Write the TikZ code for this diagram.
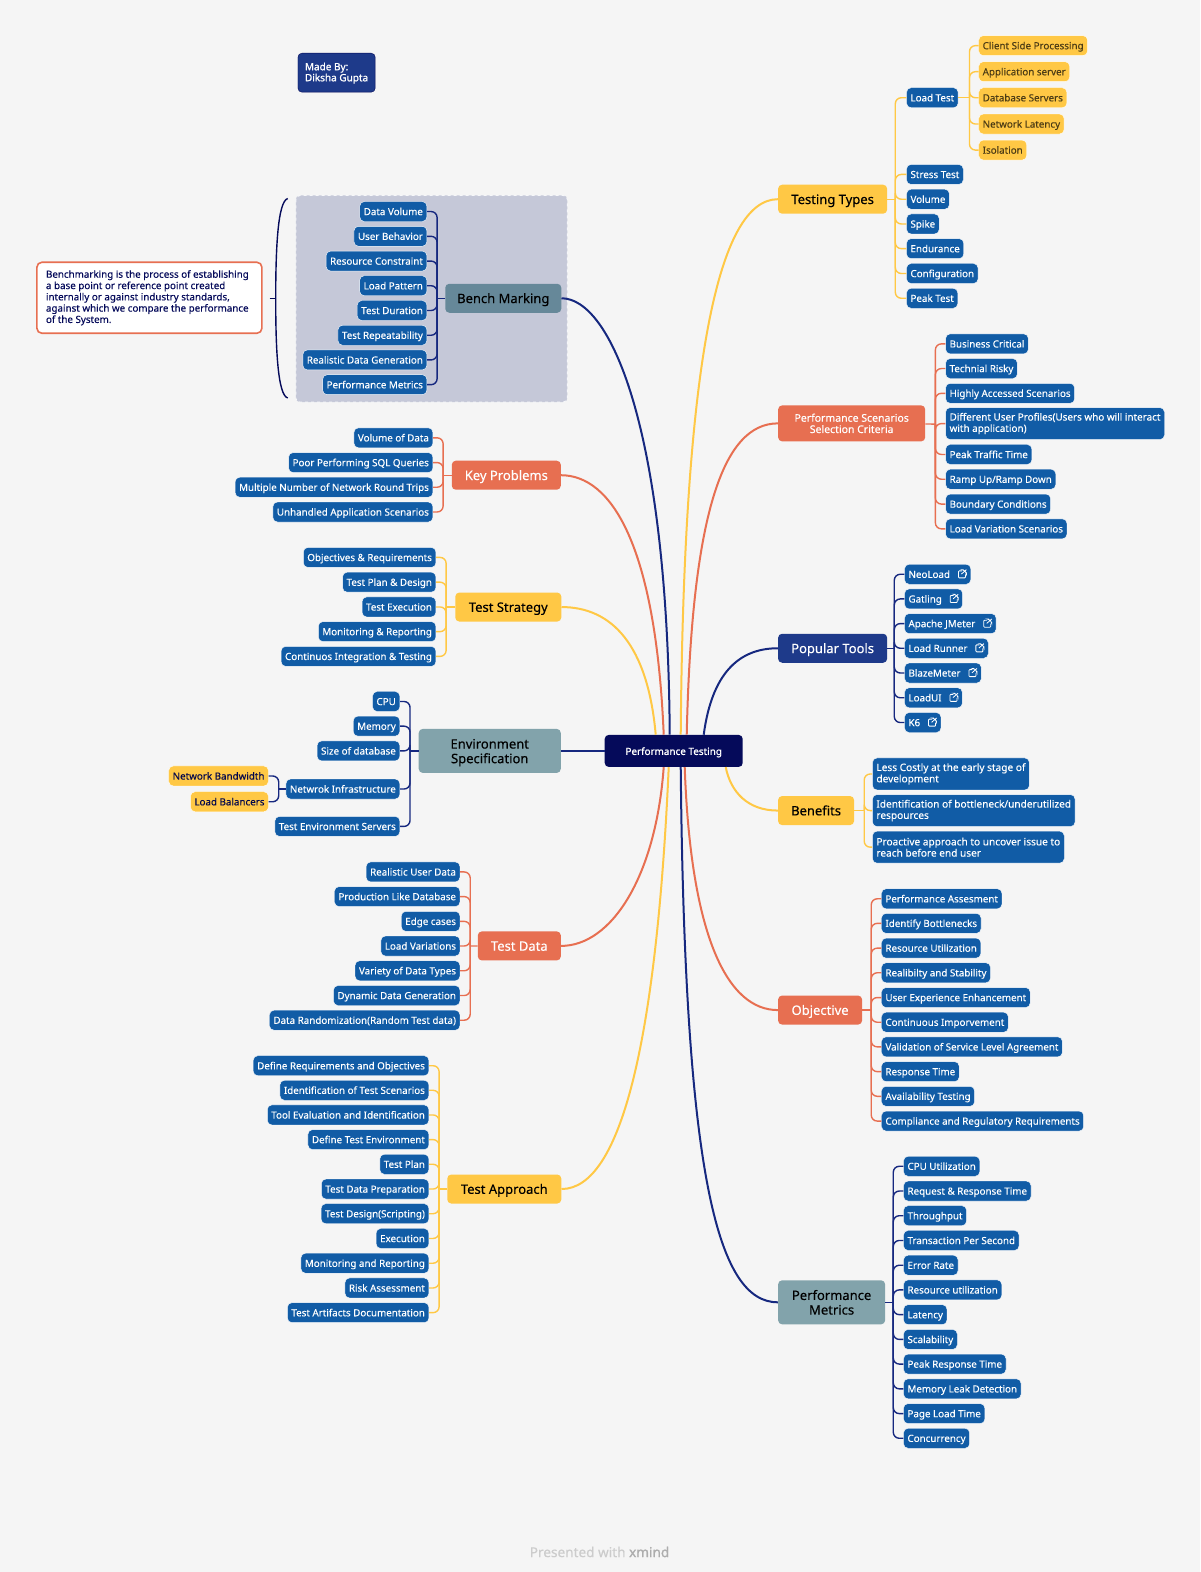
\documentclass[tikz,border=0pt]{standalone}
\usepackage{fontspec}
\usepackage{tikz}
\setmainfont{Noto Sans}[FakeBold=0.25]
\newfontfamily\heavyfont{Noto Sans}[FakeBold=1.1]
\definecolor{pagebg}{HTML}{F5F5F5}
\definecolor{hubnavy}{HTML}{050A5A}
\definecolor{toolnavy}{HTML}{1E3A8A}
\definecolor{linenavy}{HTML}{16287F}
\definecolor{leafblue}{HTML}{115CA6}
\definecolor{sunny}{HTML}{FFC845}
\definecolor{coral}{HTML}{E76F51}
\definecolor{slate}{HTML}{668899}
\definecolor{steel}{HTML}{82A3AB}
\definecolor{lilac}{HTML}{C5C8D8}
\newcommand{\linkicon}{\hspace{8pt}\tikz[baseline=0pt,x=1pt,y=1pt]{\draw[white,line width=.8pt,rounded corners=.8pt] (3.5,7) -- (0,7) -- (0,0) -- (7,0) -- (7,3.5);\draw[white,line width=.8pt] (3,3.8) -- (8,8.2) (5.2,8.2) -- (8,8.2) -- (8,5.4);}}

\begin{document}
\begin{tikzpicture}[
        x=1.0025pt,
        y=-1.0025pt,
        topic/.style={twoline, text height=11.5pt, text depth=1.9pt},
        twoline/.style={rounded corners=4pt, inner sep=0pt, minimum height=29pt, align=center, font=\fontsize{13}{15}\selectfont},
        leaf/.style={fill=leafblue, draw=white, line width=.4pt, text=white, rounded corners=4.5pt, inner xsep=4pt, inner ysep=0pt, minimum height=20pt, font=\fontsize{9.8}{11.3}\selectfont},
        leafw/.style={leaf, anchor=west, text height=8.6pt, text depth=1.4pt},
        leafe/.style={leaf, anchor=east, text height=8.6pt, text depth=1.4pt},
        wrapw/.style={leaf, anchor=west, align=left, minimum height=32pt, font=\fontsize{10.1}{11.3}\selectfont},
        tagw/.style={leafw, fill=sunny, text=black!70!sunny},
        tage/.style={leafe, fill=sunny, text=hubnavy!85!black},
        mainy/.style={line width=2pt, draw=sunny},
        mainr/.style={line width=2pt, draw=coral},
        mainn/.style={line width=2pt, draw=linenavy},
        liney/.style={line width=1.4pt, draw=sunny, rounded corners=6pt},
        liner/.style={line width=1.4pt, draw=coral, rounded corners=6pt},
        linen/.style={line width=1.4pt, draw=linenavy, rounded corners=6pt}
    ]
        \fill[pagebg] (0,0) rectangle (1197,1568);
        \useasboundingbox (0,0) rectangle (1197,1568);

        % group behind the bench marking topic
        \fill[lilac, rounded corners=4pt] (295,195) rectangle (566,401);
        \draw[white!85!lilac, dashed, line width=1pt, rounded corners=4pt] (295,195) rectangle (566,401);

        % centre and topics
        \node[topic, fill=hubnavy, text=white, minimum width=138pt, minimum height=32pt, text height=9pt, text depth=1pt, font=\fontsize{9.9}{12}\heavyfont] (hub) at (672,749) {Performance Testing};
        \node[topic, fill=sunny, minimum width=109pt] (tt) at (830.5,198.7) {Testing Types};
        \node[twoline, fill=coral, text=white, minimum width=147pt, minimum height=36pt, font=\fontsize{10.5}{11.3}\selectfont] (ps) at (849.5,422.3) {Performance Scenarios\\Selection Criteria};
        \node[topic, fill=toolnavy, text=white, minimum width=109pt] (pt) at (830.5,646.6) {Popular Tools};
        \node[topic, fill=sunny, minimum width=76pt] (bf) at (814,808.5) {Benefits};
        \node[topic, fill=coral, text=white, minimum width=84pt] (ob) at (818,1007.5) {Objective};
        \node[twoline, fill=steel, minimum width=107pt, minimum height=44pt, font=\fontsize{13}{14.6}\selectfont] (pm) at (829.5,1299) {Performance\\Metrics};
        \node[topic, fill=slate, minimum width=116pt] (bm) at (502,297.5) {Bench Marking};
        \node[topic, fill=coral, text=white, minimum width=109pt] (kp) at (505,474) {Key Problems};
        \node[topic, fill=sunny, minimum width=106pt] (ts) at (507,605.5) {Test Strategy};
        \node[twoline, fill=steel, minimum width=142pt, minimum height=44pt, font=\fontsize{13}{14.6}\selectfont] (es) at (488.5,749) {\rule{0pt}{13pt}Environment\\Specification};
        \node[topic, fill=coral, text=white, minimum width=83pt] (td) at (518,943.5) {Test Data};
        \node[topic, fill=sunny, minimum width=114pt] (ta) at (503,1186) {Test Approach};

        % testing types
        \node[leafw] (lt) at (904,97.5) {Load Test};
        \node[tagw] (cs) at (976,45.5) {Client Side Processing};
        \node[tagw] (as) at (976,71.5) {Application server};
        \node[tagw] (ds) at (976,97.5) {Database Servers};
        \node[tagw] (nl) at (976,123.7) {Network Latency};
        \node[tagw] (is) at (976,149.7) {Isolation};
        \node[leafw] (st) at (904,174) {Stress Test};
        \node[leafw] (vo) at (904,198.7) {Volume};
        \node[leafw] (sp) at (904,223.4) {Spike};
        \node[leafw] (en) at (904,248) {Endurance};
        \node[leafw] (co) at (904,272.8) {Configuration};
        \node[leafw] (pe) at (904,297.5) {Peak Test};

        % performance scenarios
        \node[leafw] (bc) at (943,343) {Business Critical};
        \node[leafw] (tr) at (943,367.6) {Technial Risky};
        \node[leafw] (ha) at (943,392.3) {Highly Accessed Scenarios};
        \node[wrapw, font=\fontsize{9.9}{11.3}\selectfont] (du) at (943,422.5) {Different User Profiles(Users who will interact\\with application)};
        \node[leafw] (pk) at (943,453.3) {Peak Traffic Time};
        \node[leafw] (rr) at (943,478) {Ramp Up/Ramp Down};
        \node[leafw] (bo) at (943,502.8) {Boundary Conditions};
        \node[leafw] (lv) at (943,527.5) {Load Variation Scenarios};

        % popular tools
        \node[leafw] (ne) at (902,572.8) {NeoLoad\linkicon};
        \node[leafw] (ga) at (902,597.4) {Gatling\linkicon};
        \node[leafw] (aj) at (902,622) {Apache JMeter\linkicon};
        \node[leafw] (lr) at (902,646.6) {Load Runner\linkicon};
        \node[leafw] (bl) at (902,671.3) {BlazeMeter\linkicon};
        \node[leafw] (lu) at (902,696) {LoadUI\linkicon};
        \node[leafw] (k6) at (902,720.7) {K6\linkicon};

        % benefits
        \node[wrapw] (lc) at (870,772) {Less Costly at the early stage of\\development};
        \node[wrapw] (ib) at (870,808.5) {Identification of bottleneck/underutilized\\respources};
        \node[wrapw] (pa) at (870,845) {Proactive approach to uncover issue to\\reach before end user};

        % objective
        \node[leafw] (o1) at (879,896.5) {Performance Assesment};
        \node[leafw] (o2) at (879,921) {Identify Bottlenecks};
        \node[leafw] (o3) at (879,945.7) {Resource Utilization};
        \node[leafw] (o4) at (879,970.3) {Realibilty and Stability};
        \node[leafw] (o5) at (879,995) {User Experience Enhancement};
        \node[leafw] (o6) at (879,1019.6) {Continuous Imporvement};
        \node[leafw] (o7) at (879,1044.2) {Validation of Service Level Agreement};
        \node[leafw] (o8) at (879,1068.9) {Response Time};
        \node[leafw] (o9) at (879,1093.5) {Availability Testing};
        \node[leafw] (o10) at (879,1118.2) {Compliance and Regulatory Requirements};

        % performance metrics
        \node[leafw] (m1) at (901,1163.3) {CPU Utilization};
        \node[leafw] (m2) at (901,1188) {Request \& Response Time};
        \node[leafw] (m3) at (901,1212.6) {Throughput};
        \node[leafw] (m4) at (901,1237.3) {Transaction Per Second};
        \node[leafw] (m5) at (901,1262) {Error Rate};
        \node[leafw] (m6) at (901,1286.6) {Resource utilization};
        \node[leafw] (m7) at (901,1311.3) {Latency};
        \node[leafw] (m8) at (901,1336) {Scalability};
        \node[leafw] (m9) at (901,1360.6) {Peak Response Time};
        \node[leafw] (m10) at (901,1385.3) {Memory Leak Detection};
        \node[leafw] (m11) at (901,1410) {Page Load Time};
        \node[leafw] (m12) at (901,1434.6) {Concurrency};

        % bench marking
        \node[leafe] (b1) at (426,211) {Data Volume};
        \node[leafe] (b2) at (426,235.7) {User Behavior};
        \node[leafe] (b3) at (426,260.4) {Resource Constraint};
        \node[leafe] (b4) at (426,285) {Load Pattern};
        \node[leafe] (b5) at (426,309.7) {Test Duration};
        \node[leafe] (b6) at (426,334.4) {Test Repeatability};
        \node[leafe] (b7) at (426,359) {Realistic Data Generation};
        \node[leafe] (b8) at (426,383.7) {Performance Metrics};

        % key problems
        \node[leafe] (k1) at (432,436.7) {Volume of Data};
        \node[leafe] (k2) at (432,461.4) {Poor Performing SQL Queries};
        \node[leafe] (k3) at (432,486) {Multiple Number of Network Round Trips};
        \node[leafe] (k4) at (432,510.7) {Unhandled Application Scenarios};

        % test strategy
        \node[leafe] (s1) at (435,556) {Objectives \& Requirements};
        \node[leafe] (s2) at (435,580.7) {Test Plan \& Design};
        \node[leafe] (s3) at (435,605.4) {Test Execution};
        \node[leafe] (s4) at (435,630) {Monitoring \& Reporting};
        \node[leafe] (s5) at (435,654.7) {Continuos Integration \& Testing};

        % environment specification
        \node[leafe] (e1) at (399,699.7) {CPU};
        \node[leafe] (e2) at (399,724.3) {Memory};
        \node[leafe] (e3) at (399,749) {Size of database};
        \node[leafe] (e4) at (399,787) {Netwrok Infrastructure};
        \node[leafe] (e5) at (399,824.3) {Test Environment Servers};
        \node[tage] (nb) at (268,774) {Network Bandwidth};
        \node[tage] (lb) at (268,799.7) {Load Balancers};

        % test data
        \node[leafe] (d1) at (459,869.7) {Realistic User Data};
        \node[leafe] (d2) at (459,894.3) {Production Like Database};
        \node[leafe] (d3) at (459,919) {Edge cases};
        \node[leafe] (d4) at (459,943.6) {Load Variations};
        \node[leafe] (d5) at (459,968.3) {Variety of Data Types};
        \node[leafe] (d6) at (459,993) {Dynamic Data Generation};
        \node[leafe] (d7) at (459,1017.6) {Data Randomization(Random Test data)};

        % test approach
        \node[leafe] (a1) at (428,1063) {Define Requirements and Objectives};
        \node[leafe] (a2) at (428,1087.5) {Identification of Test Scenarios};
        \node[leafe] (a3) at (428,1112.1) {Tool Evaluation and Identification};
        \node[leafe] (a4) at (428,1136.7) {Define Test Environment};
        \node[leafe] (a5) at (428,1161.3) {Test Plan};
        \node[leafe] (a6) at (428,1186) {Test Data Preparation};
        \node[leafe] (a7) at (428,1210.6) {Test Design(Scripting)};
        \node[leafe] (a8) at (428,1235.3) {Execution};
        \node[leafe] (a9) at (428,1260) {Monitoring and Reporting};
        \node[leafe] (a10) at (428,1284.7) {Risk Assessment};
        \node[leafe] (a11) at (428,1309.3) {Test Artifacts Documentation};

        % notes
        \node[leaf, anchor=west, fill=toolnavy, draw=hubnavy, align=left, rounded corners=4pt, inner xsep=7pt, minimum width=77pt, minimum height=39pt, font=\fontsize{10}{11}\heavyfont] (mb) at (297,72.5) {\rule{0pt}{8.5pt}Made By:\\Diksha Gupta};
        \node[anchor=west, fill=white, draw=coral, line width=1.6pt, rounded corners=5pt, align=left, text=hubnavy, inner xsep=9pt, inner ysep=0pt, minimum width=225pt, minimum height=71pt, font=\fontsize{9.8}{11.3}\selectfont] (bn) at (36,297) {Benchmarking is the process of establishing\hspace*{4pt}\\a base point or reference point created\\internally or against industry standards,\\against which we compare the performance\\of the System.};
        \node[inner sep=0pt, text=black!20, font=\fontsize{13.6}{15}\selectfont] (xm) at (598,1548) {Presented with {\heavyfont\color{black!32}xmind}};

        % spines
        \coordinate (tt-s) at (893,198.7);
        \coordinate (lt-s) at (967,97.5);
        \coordinate (ps-s) at (933,423);
        \coordinate (pt-s) at (892,646.6);
        \coordinate (bf-s) at (862,808.5);
        \coordinate (ob-s) at (869,1007.5);
        \coordinate (pm-s) at (891,1299);
        \coordinate (bm-s) at (436,297.5);
        \coordinate (kp-s) at (442,474);
        \coordinate (ts-s) at (445,605.5);
        \coordinate (es-s) at (409,749);
        \coordinate (e4-s) at (278,787);
        \coordinate (td-s) at (469,943.6);
        \coordinate (ta-s) at (438,1186);

        % main branches
        \draw[mainn] ([xshift=-4pt]hub.north) .. controls +(-2,-310) and +(48,0) .. (bm.east);
        \draw[mainr] ([xshift=-10pt]hub.north) .. controls +(-8,-190) and +(50,0) .. (kp.east);
        \draw[mainy] ([xshift=-18pt]hub.north) .. controls +(-8,-90) and +(50,0) .. (ts.east);
        \draw[mainn] (hub.west) -- (es.east);
        \draw[mainr] ([xshift=-10pt]hub.south) .. controls +(-8,110) and +(50,0) .. (td.east);
        \draw[mainy] ([xshift=-5pt]hub.south) .. controls +(-12,270) and +(60,0) .. (ta.east);
        \draw[mainy] ([xshift=7pt]hub.north) .. controls +(3,-370) and +(-60,0) .. (tt.west);
        \draw[mainr] ([xshift=13pt]hub.north) .. controls +(5,-220) and +(-55,0) .. (ps.west);
        \draw[mainn] ([xshift=30pt]hub.north) .. controls +(8,-60) and +(-40,0) .. (pt.west);
        \draw[mainy] ([xshift=52pt]hub.south) .. controls +(5,25) and +(-30,0) .. (bf.west);
        \draw[mainr] ([xshift=11pt]hub.south) .. controls +(6,170) and +(-50,0) .. (ob.west);
        \draw[mainn] ([xshift=7pt]hub.south) .. controls +(4,410) and +(-60,0) .. (pm.west);

        % testing types branches
        \draw[liney] (tt) -- (tt-s);
        \draw[liney] (tt-s) |- (lt);
        \draw[liney] (tt-s) |- (st);
        \draw[liney] (tt-s) |- (vo);
        \draw[liney] (tt-s) |- (sp);
        \draw[liney] (tt-s) |- (en);
        \draw[liney] (tt-s) |- (co);
        \draw[liney] (tt-s) |- (pe);
        \draw[liney] (lt) -- (lt-s);
        \draw[liney] (lt-s) |- (cs);
        \draw[liney] (lt-s) |- (as);
        \draw[liney] (lt-s) |- (ds);
        \draw[liney] (lt-s) |- (nl);
        \draw[liney] (lt-s) |- (is);

        % performance scenarios branches
        \draw[liner] (ps) -- (ps-s);
        \draw[liner] (ps-s) |- (bc);
        \draw[liner] (ps-s) |- (tr);
        \draw[liner] (ps-s) |- (ha);
        \draw[liner] (ps-s) |- (du);
        \draw[liner] (ps-s) |- (pk);
        \draw[liner] (ps-s) |- (rr);
        \draw[liner] (ps-s) |- (bo);
        \draw[liner] (ps-s) |- (lv);

        % popular tools branches
        \draw[linen] (pt) -- (pt-s);
        \draw[linen] (pt-s) |- (ne);
        \draw[linen] (pt-s) |- (ga);
        \draw[linen] (pt-s) |- (aj);
        \draw[linen] (pt-s) |- (lr);
        \draw[linen] (pt-s) |- (bl);
        \draw[linen] (pt-s) |- (lu);
        \draw[linen] (pt-s) |- (k6);

        % benefits branches
        \draw[liney] (bf) -- (bf-s);
        \draw[liney] (bf-s) |- (lc);
        \draw[liney] (bf-s) |- (ib);
        \draw[liney] (bf-s) |- (pa);

        % objective branches
        \draw[liner] (ob) -- (ob-s);
        \draw[liner] (ob-s) |- (o1);
        \draw[liner] (ob-s) |- (o2);
        \draw[liner] (ob-s) |- (o3);
        \draw[liner] (ob-s) |- (o4);
        \draw[liner] (ob-s) |- (o5);
        \draw[liner] (ob-s) |- (o6);
        \draw[liner] (ob-s) |- (o7);
        \draw[liner] (ob-s) |- (o8);
        \draw[liner] (ob-s) |- (o9);
        \draw[liner] (ob-s) |- (o10);

        % performance metrics branches
        \draw[linen] (pm) -- (pm-s);
        \draw[linen] (pm-s) |- (m1);
        \draw[linen] (pm-s) |- (m2);
        \draw[linen] (pm-s) |- (m3);
        \draw[linen] (pm-s) |- (m4);
        \draw[linen] (pm-s) |- (m5);
        \draw[linen] (pm-s) |- (m6);
        \draw[linen] (pm-s) |- (m7);
        \draw[linen] (pm-s) |- (m8);
        \draw[linen] (pm-s) |- (m9);
        \draw[linen] (pm-s) |- (m10);
        \draw[linen] (pm-s) |- (m11);
        \draw[linen] (pm-s) |- (m12);

        % bench marking branches
        \draw[linen] (bm) -- (bm-s);
        \draw[linen] (bm-s) |- (b1);
        \draw[linen] (bm-s) |- (b2);
        \draw[linen] (bm-s) |- (b3);
        \draw[linen] (bm-s) |- (b4);
        \draw[linen] (bm-s) |- (b5);
        \draw[linen] (bm-s) |- (b6);
        \draw[linen] (bm-s) |- (b7);
        \draw[linen] (bm-s) |- (b8);

        % key problems branches
        \draw[liner] (kp) -- (kp-s);
        \draw[liner] (kp-s) |- (k1);
        \draw[liner] (kp-s) |- (k2);
        \draw[liner] (kp-s) |- (k3);
        \draw[liner] (kp-s) |- (k4);

        % test strategy branches
        \draw[liney] (ts) -- (ts-s);
        \draw[liney] (ts-s) |- (s1);
        \draw[liney] (ts-s) |- (s2);
        \draw[liney] (ts-s) |- (s3);
        \draw[liney] (ts-s) |- (s4);
        \draw[liney] (ts-s) |- (s5);

        % environment branches
        \draw[linen] (es) -- (es-s);
        \draw[linen] (es-s) |- (e1);
        \draw[linen] (es-s) |- (e2);
        \draw[linen] (es-s) |- (e3);
        \draw[linen] (es-s) |- (e4);
        \draw[linen] (es-s) |- (e5);
        \draw[linen] (e4) -- (e4-s);
        \draw[linen] (e4-s) |- (nb);
        \draw[linen] (e4-s) |- (lb);

        % test data branches
        \draw[liner] (td) -- (td-s);
        \draw[liner] (td-s) |- (d1);
        \draw[liner] (td-s) |- (d2);
        \draw[liner] (td-s) |- (d3);
        \draw[liner] (td-s) |- (d4);
        \draw[liner] (td-s) |- (d5);
        \draw[liner] (td-s) |- (d6);
        \draw[liner] (td-s) |- (d7);

        % test approach branches
        \draw[liney] (ta) -- (ta-s);
        \draw[liney] (ta-s) |- (a1);
        \draw[liney] (ta-s) |- (a2);
        \draw[liney] (ta-s) |- (a3);
        \draw[liney] (ta-s) |- (a4);
        \draw[liney] (ta-s) |- (a5);
        \draw[liney] (ta-s) |- (a6);
        \draw[liney] (ta-s) |- (a7);
        \draw[liney] (ta-s) |- (a8);
        \draw[liney] (ta-s) |- (a9);
        \draw[liney] (ta-s) |- (a10);
        \draw[liney] (ta-s) |- (a11);

        % brace of the group
        \coordinate (br-t) at (287,198);
        \coordinate (br-m) at (275,298);
        \coordinate (br-b) at (287,397);
        \coordinate (br-x) at (269,298);
        \draw[line width=1.4pt, draw=hubnavy] (br-t) .. controls +(-10,3) and +(0,-50) .. (br-m) .. controls +(0,50) and +(-10,-3) .. (br-b);
        \draw[line width=1.4pt, draw=hubnavy] (br-x) -- (br-m);
\end{tikzpicture}
\end{document}
